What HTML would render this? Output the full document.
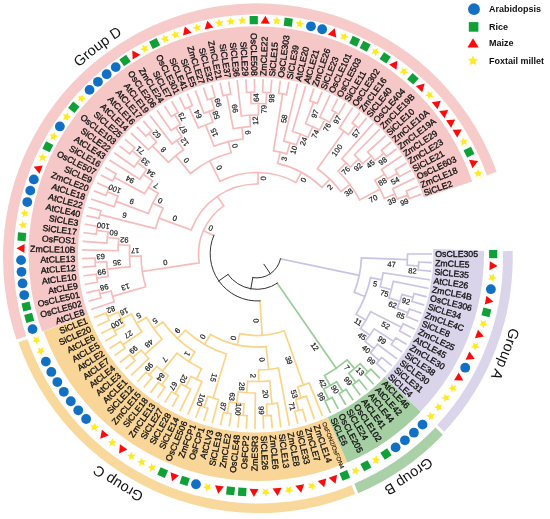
<!DOCTYPE html>
<html lang="en"><head><meta charset="utf-8"><title>CLE phylogenetic tree</title>
<style>
html,body{margin:0;padding:0;background:#fff}
svg{display:block;font-family:"Liberation Sans",Arial,sans-serif}
</style></head><body>
<svg width="550" height="519" viewBox="0 0 550 519">
<rect width="550" height="519" fill="#fff"/>
<g id="sectors">
<path d="M42.12 331.6A227.8 227.8 0 1 1 472.22 181.4L398.48 206.2A150 150 0 1 0 115.27 305.1Z" fill="#f5c7c7"/>
<path d="M347.21 462.3A227 227 0 0 1 43.58 331.33L115.97 305.1A150 150 0 0 0 316.61 391.65Z" fill="#f9d697"/>
<path d="M420.74 411.66A227.3 227.3 0 0 1 347.33 462.58L316.61 391.65A150 150 0 0 0 365.05 358.04Z" fill="#a5cfa3"/>
<path d="M483.98 250.91A227 227 0 0 1 420.52 411.45L365.05 358.04A150 150 0 0 0 406.87 247.85Z" fill="#d9d4ea"/>
<circle cx="255.6" cy="254.75" r="177.8" fill="#fff"/>
</g>
<g id="rings">
<path d="M16.52 339.53A254.3 254.3 0 0 1 496.67 171.86L486.88 175.38A243.9 243.9 0 0 0 26.38 336.2Z" fill="#f8cbcb"/>
<path d="M355.13 494.07A254.4 254.4 0 0 1 18.35 342.36L27.42 339.21A244.8 244.8 0 0 0 351.49 485.19Z" fill="#f9d89c"/>
<path d="M442.84 434.67A254.7 254.7 0 0 1 358.22 493.15L354.23 483.76A244.5 244.5 0 0 0 435.47 427.62Z" fill="#a9d0a7"/>
<path d="M512.6 250.89A254.7 254.7 0 0 1 444.28 431.7L437.18 425.09A245 245 0 0 0 502.9 251.16Z" fill="#dad5eb"/>
</g>
<g id="tree" fill="none" stroke-width="1.7" stroke-linecap="square">
<path stroke="#f7bbbb" d="M213.86 235.35L203.3 230.79M199.17 262.82A58.5 58.5 0 0 1 223.81 205.83M199.17 262.82L142.33 271.49M145.71 286.7A116 116 0 0 1 141.02 255.96M145.71 286.7L112.6 296.43M114.28 301.75A150.5 150.5 0 0 1 111.13 291.05M114.28 301.75L91.9 309.24M111.13 291.05L99.98 293.88M101.02 297.75A162 162 0 0 1 99.05 289.98M101.02 297.75L89.37 301.01M99.05 289.98L87.25 292.67M141.02 255.96L129.52 256.16M130.14 266.77A127.5 127.5 0 0 1 129.78 245.52M130.14 266.77L107.26 269.08M108.19 276.46A150.5 150.5 0 0 1 106.69 261.66M108.19 276.46L96.81 278.18M97.46 282.13A162 162 0 0 1 96.27 274.21M97.46 282.13L85.54 284.23M96.27 274.21L84.26 275.72M106.69 261.66L95.21 262.24M95.46 266.24A162 162 0 0 1 95.06 258.24M95.46 266.24L83.4 267.15M95.06 258.24L82.96 258.56M129.78 245.52L118.31 244.76M118.04 250.77A139 139 0 0 1 118.84 238.77M118.04 250.77L82.95 249.95M118.84 238.77L107.41 237.51M106.9 243.06A150.5 150.5 0 0 1 108.12 231.97M106.9 243.06L83.36 241.35M108.12 231.97L96.74 230.29M96.21 234.26A162 162 0 0 1 97.38 226.33M96.21 234.26L84.2 232.78M97.38 226.33L85.46 224.27M223.81 205.83L217.28 196.36M191.25 229.99A70 70 0 0 1 257.98 184.01M191.25 229.99L158.84 218.16M155.64 228.57A104.5 104.5 0 0 1 163.11 208.13M155.64 228.57L99.87 214.58M98.94 218.48A162 162 0 0 1 100.89 210.71M98.94 218.48L87.14 215.82M100.89 210.71L89.23 207.47M163.11 208.13L152.77 203.08M148.32 213.45A116 116 0 0 1 158.22 193.19M148.32 213.45L115.99 201.4M114.14 206.66A150.5 150.5 0 0 1 118.04 196.2M114.14 206.66L91.74 199.24M118.04 196.2L107.42 191.79M105.93 195.5A162 162 0 0 1 109.01 188.11M105.93 195.5L94.65 191.14M109.01 188.11L97.95 183.19M158.22 193.19L148.42 187.16M144.69 193.65A127.5 127.5 0 0 1 152.53 180.91M144.69 193.65L114.3 177.32M112.44 180.87A162 162 0 0 1 116.24 173.82M112.44 180.87L101.65 175.41M116.24 173.82L105.72 167.83M152.53 180.91L143.11 174.31M139.77 179.32A139 139 0 0 1 146.66 169.46M139.77 179.32L110.17 160.46M146.66 169.46L137.53 162.47M134.22 166.96A150.5 150.5 0 0 1 141.01 158.1M134.22 166.96L114.97 153.31M141.01 158.1L132.15 150.77M129.63 153.89A162 162 0 0 1 134.74 147.72M129.63 153.89L120.12 146.41M134.74 147.72L125.61 139.78M257.98 184.01L258.14 172.51M220.06 181.35A81.5 81.5 0 0 1 295.97 182.42M220.06 181.35L209.63 160.85M190.37 173.5A104.5 104.5 0 0 1 231.2 152.73M190.37 173.5L175.7 155.78M168.36 162.35A127.5 127.5 0 0 1 183.53 149.8M168.36 162.35L152.38 145.82M148.44 149.77A150.5 150.5 0 0 1 156.46 142.01M148.44 149.77L131.41 133.42M156.46 142.01L148.78 133.45M145.83 136.17A162 162 0 0 1 151.79 130.81M145.83 136.17L137.53 127.36M151.79 130.81L143.93 121.61M183.53 149.8L176.9 140.4M172.06 143.97A139 139 0 0 1 181.89 137.04M172.06 143.97L150.61 116.19M181.89 137.04L175.68 127.36M171.04 130.47A150.5 150.5 0 0 1 180.43 124.44M171.04 130.47L157.56 111.1M180.43 124.44L174.58 114.54M171.15 116.62A162 162 0 0 1 178.05 112.54M171.15 116.62L164.74 106.35M178.05 112.54L172.15 101.97M231.2 152.73L228.36 141.59M214.05 146.24A116 116 0 0 1 243.16 138.83M214.05 146.24L205.54 124.88M198.44 127.94A139 139 0 0 1 212.8 122.22M198.44 127.94L188.75 107.08M185.14 108.81A162 162 0 0 1 192.4 105.44M185.14 108.81L179.77 97.97M192.4 105.44L187.58 94.34M212.8 122.22L209.14 111.31M203.88 113.18A150.5 150.5 0 0 1 214.47 109.64M203.88 113.18L195.55 91.1M214.47 109.64L211.22 98.6M207.39 99.78A162 162 0 0 1 215.07 97.52M207.39 99.78L203.68 88.27M215.07 97.52L211.94 85.83M243.16 138.83L241.78 127.41M233.22 128.74A127.5 127.5 0 0 1 250.42 126.67M233.22 128.74L226.78 94.84M222.86 95.64A162 162 0 0 1 230.73 94.14M222.86 95.64L220.31 83.81M230.73 94.14L228.76 82.2M250.42 126.67L249.83 115.19M241.26 115.89A139 139 0 0 1 258.42 115.01M241.26 115.89L237.29 81.02M258.42 115.01L258.53 103.51M251.09 103.62A150.5 150.5 0 0 1 265.97 103.77M251.09 103.62L250.64 92.12M246.64 92.33A162 162 0 0 1 254.64 92.02M246.64 92.33L245.87 80.26M254.64 92.02L254.47 79.92M265.97 103.77L266.65 92.29M262.65 92.1A162 162 0 0 1 270.65 92.58M262.65 92.1L263.08 80.01M270.65 92.58L271.67 80.52M295.97 182.42L301.46 172.32M277.68 163.33A93 93 0 0 1 321.93 187.42M277.68 163.33L280.23 152.12M273.5 150.81A104.5 104.5 0 0 1 286.87 153.86M273.5 150.81L282.58 94.03M278.61 93.45A162 162 0 0 1 286.52 94.71M278.61 93.45L280.23 81.46M286.52 94.71L288.73 82.82M286.87 153.86L290.16 142.84M283.75 141.13A116 116 0 0 1 296.46 144.92M283.75 141.13L297.15 84.59M296.46 144.92L300.37 134.1M292.5 131.54A127.5 127.5 0 0 1 308.05 137.17M292.5 131.54L305.48 86.78M308.05 137.17L312.66 126.63M305.49 123.73A139 139 0 0 1 319.65 129.92M305.49 123.73L313.51 102.18M309.74 100.83A162 162 0 0 1 317.25 103.62M309.74 100.83L313.68 89.39M317.25 103.62L321.75 92.39M319.65 129.92L324.84 119.66M319.81 117.23A150.5 150.5 0 0 1 329.77 122.26M319.81 117.23L329.66 95.79M329.77 122.26L335.33 112.2M331.8 110.3A162 162 0 0 1 338.81 114.18M331.8 110.3L337.39 99.57M338.81 114.18L344.93 103.73M321.93 187.42L329.96 179.18M317.37 168.7A104.5 104.5 0 0 1 340.75 191.5M317.37 168.7L343.95 131.16M339.33 128.02A150.5 150.5 0 0 1 348.44 134.47M339.33 128.02L352.25 108.26M348.44 134.47L355.43 125.33M352.22 122.94A162 162 0 0 1 358.58 127.81M352.22 122.94L359.33 113.15M358.58 127.81L366.17 118.38M340.75 191.5L349.96 184.62M338.05 171.01A116 116 0 0 1 359.62 199.91M338.05 171.01L346.08 162.78M341.76 158.75A127.5 127.5 0 0 1 350.22 167.01M341.76 158.75L372.74 123.94M350.22 167.01L358.62 159.17M354.43 154.86A139 139 0 0 1 362.63 163.65M354.43 154.86L379.03 129.82M362.63 163.65L371.37 156.17M367.66 152A150.5 150.5 0 0 1 374.92 160.48M367.66 152L385.02 136.01M374.92 160.48L383.93 153.34M381.4 150.23A162 162 0 0 1 386.38 156.51M381.4 150.23L390.69 142.48M386.38 156.51L396.04 149.22M359.62 199.91L379.97 189.19M374.83 180.26A139 139 0 0 1 384.43 198.48M374.83 180.26L384.57 174.15M381.52 169.48A150.5 150.5 0 0 1 387.45 178.94M381.52 169.48L401.05 156.23M387.45 178.94L397.41 173.2M395.37 169.76A162 162 0 0 1 399.37 176.7M395.37 169.76L405.71 163.47M399.37 176.7L410 170.93M384.43 198.48L394.97 193.89M392.65 188.81A150.5 150.5 0 0 1 397.11 199.05M392.65 188.81L413.92 178.59M397.11 199.05L407.81 194.85M406.31 191.14A162 162 0 0 1 409.23 198.59M406.31 191.14L417.46 186.44M409.23 198.59L420.6 194.45"/>
<path stroke="#fbd486" d="M260 300.9L262.2 335.33M284.23 330.82A81.5 81.5 0 0 1 239.78 333.66M284.23 330.82L303.45 385.01M309.07 382.88A139 139 0 0 1 297.74 386.9M309.07 382.88L322.22 415.42M297.74 386.9L301.11 397.89M306.41 396.16A150.5 150.5 0 0 1 295.74 399.43M306.41 396.16L314.16 418.45M295.74 399.43L298.7 410.54M302.56 409.46A162 162 0 0 1 294.82 411.52M302.56 409.46L305.96 421.07M294.82 411.52L297.64 423.29M239.78 333.66L237.35 344.9M266.25 346.54A93 93 0 0 1 210.35 334.45M266.25 346.54L268.54 369.42M278.47 368A116 116 0 0 1 258.52 369.99M278.47 368L289.23 425.09M258.52 369.99L258.67 381.49M269.68 380.87A127.5 127.5 0 0 1 247.64 381.16M269.68 380.87L271.97 403.75M277.51 403.1A150.5 150.5 0 0 1 266.41 404.21M277.51 403.1L280.73 426.48M266.41 404.21L267.13 415.68M271.12 415.38A162 162 0 0 1 263.12 415.88M271.12 415.38L272.17 427.44M263.12 415.88L263.58 427.98M247.64 381.16L246.8 392.63M255.38 392.99A139 139 0 0 1 238.26 391.73M255.38 392.99L254.97 428.09M238.26 391.73L236.7 403.13M244.1 403.95A150.5 150.5 0 0 1 229.36 401.94M244.1 403.95L243.12 415.4M247.11 415.7A162 162 0 0 1 239.13 415.01M247.11 415.7L246.37 427.78M239.13 415.01L237.79 427.04M229.36 401.94L227.25 413.24M231.19 413.93A162 162 0 0 1 223.32 412.46M231.19 413.93L229.26 425.88M223.32 412.46L220.8 424.3M210.35 334.45L204.58 344.4M226.52 353.96A104.5 104.5 0 0 1 185.39 330.11M226.52 353.96L213.1 397.96M218.47 399.48A150.5 150.5 0 0 1 207.8 396.23M218.47 399.48L212.43 422.3M207.8 396.23L204.04 407.1M207.84 408.36A162 162 0 0 1 200.27 405.74M207.84 408.36L204.16 419.89M200.27 405.74L196.03 417.07M185.39 330.11L177.51 338.48M194.9 351.98A116 116 0 0 1 162.98 321.94M194.9 351.98L188.75 361.69M201.48 368.78A127.5 127.5 0 0 1 176.91 353.2M201.48 368.78L196.48 379.13M201.94 381.63A139 139 0 0 1 191.12 376.4M201.94 381.63L188.04 413.86M191.12 376.4L185.67 386.52M190.63 389.08A150.5 150.5 0 0 1 180.8 383.79M190.63 389.08L180.22 410.26M180.8 383.79L174.98 393.7M178.46 395.69A162 162 0 0 1 171.55 391.63M178.46 395.69L172.59 406.27M171.55 391.63L165.17 401.91M176.91 353.2L162.46 371.1M168.36 375.63A150.5 150.5 0 0 1 156.78 366.28M168.36 375.63L161.59 384.92M164.85 387.24A162 162 0 0 1 158.38 382.52M164.85 387.24L157.97 397.19M158.38 382.52L151.01 392.12M156.78 366.28L149.13 374.86M152.15 377.49A162 162 0 0 1 146.17 372.16M152.15 377.49L144.32 386.72M146.17 372.16L137.89 380.98M162.98 321.94L153.66 328.68M162.06 339.11A127.5 127.5 0 0 1 146.4 317.43M162.06 339.11L144.94 354.46M148.74 358.55A150.5 150.5 0 0 1 141.29 350.24M148.74 358.55L131.76 374.94M141.29 350.24L132.45 357.59M135.05 360.64A162 162 0 0 1 129.92 354.48M135.05 360.64L125.94 368.6M129.92 354.48L120.43 361.98M146.4 317.43L136.42 323.15M141.88 331.9A139 139 0 0 1 131.63 314.02M141.88 331.9L122.83 344.78M125.11 348.07A162 162 0 0 1 120.62 341.44M125.11 348.07L115.26 355.1M120.62 341.44L110.44 347.97M131.63 314.02L121.26 318.99M124.63 325.62A150.5 150.5 0 0 1 118.21 312.2M124.63 325.62L114.52 331.09M116.47 334.59A162 162 0 0 1 112.66 327.55M116.47 334.59L105.97 340.61M112.66 327.55L101.88 333.04M118.21 312.2L107.6 316.65M109.2 320.32A162 162 0 0 1 106.1 312.93M109.2 320.32L98.16 325.28M106.1 312.93L94.83 317.34"/>
<path stroke="#98cd98" d="M277.23 283.17L336.23 368.21M347.12 359.83A139 139 0 0 1 324.57 375.47M347.12 359.83L354.58 368.58M360.12 363.62A150.5 150.5 0 0 1 348.79 373.27M360.12 363.62L368 372M370.88 369.22A162 162 0 0 1 365.05 374.7M370.88 369.22L379.39 377.82M365.05 374.7L373.12 383.72M348.79 373.27L355.81 382.38M358.95 379.9A162 162 0 0 1 352.6 384.78M358.95 379.9L366.56 389.3M352.6 384.78L359.74 394.55M324.57 375.47L330.16 385.52M336.57 381.75A150.5 150.5 0 0 1 323.56 388.98M336.57 381.75L342.65 391.51M346.02 389.35A162 162 0 0 1 339.22 393.58M346.02 389.35L352.67 399.46M339.22 393.58L345.36 404.01M323.56 388.98L328.65 399.29M332.22 397.48A162 162 0 0 1 325.04 401.02M332.22 397.48L337.84 408.19M325.04 401.02L330.12 412"/>
<path stroke="#c9c4e5" d="M280.49 258.92L359.28 275.41M361.43 257.87A104.5 104.5 0 0 1 354.22 292.33M361.43 257.87L407.4 259.58M407.5 254A150.5 150.5 0 0 1 407.09 265.15M407.5 254L431.1 254M407.09 265.15L418.55 266.01M418.8 262.01A162 162 0 0 1 418.21 270M418.8 262.01L430.89 262.61M418.21 270L430.25 271.19M354.22 292.33L364.92 296.54M370.59 277.5A116 116 0 0 1 356.07 314.34M370.59 277.5L381.86 279.83M383.1 272.85A127.5 127.5 0 0 1 380.23 286.73M383.1 272.85L429.19 279.73M380.23 286.73L391.34 289.68M393.29 281.32A139 139 0 0 1 388.88 297.91M393.29 281.32L427.71 288.21M388.88 297.91L399.79 301.55M401.97 294.43A150.5 150.5 0 0 1 397.27 308.55M401.97 294.43L413.05 297.52M414.07 293.65A162 162 0 0 1 411.92 301.36M414.07 293.65L425.81 296.61M411.92 301.36L423.49 304.9M397.27 308.55L407.99 312.71M409.39 308.96A162 162 0 0 1 406.49 316.43M409.39 308.96L420.77 313.07M406.49 316.43L417.65 321.09M356.07 314.34L365.89 320.32M370.69 311.72A127.5 127.5 0 0 1 360.45 328.53M370.69 311.72L401.45 327.34M403.22 323.74A162 162 0 0 1 399.59 330.89M403.22 323.74L414.14 328.95M399.59 330.89L410.24 336.63M360.45 328.53L369.78 335.25M374.12 328.86A139 139 0 0 1 365.09 341.4M374.12 328.86L393.5 341.24M395.62 337.84A162 162 0 0 1 391.3 344.59M395.62 337.84L405.97 344.1M391.3 344.59L401.34 351.36M365.09 341.4L374.03 348.63M377.46 344.22A150.5 150.5 0 0 1 370.44 352.9M377.46 344.22L396.35 358.37M370.44 352.9L379.11 360.46M381.7 357.41A162 162 0 0 1 376.44 363.45M381.7 357.41L391.02 365.13M376.44 363.45L385.36 371.62"/>
<path stroke="#333333" stroke-width="1.0" d="M264 264.36L270.44 273.88M280.49 258.92A24 24 0 0 1 252.81 277.63M252.81 277.63L250.8 288.95M277.23 283.17A35.5 35.5 0 0 1 227.97 274.43M227.97 274.43L218.57 281.05M260 300.9A47 47 0 0 1 213.86 235.35"/>
</g>
<g id="boot" font-size="7.6" fill="#222" stroke="#222" stroke-width="0.2" text-anchor="middle">
<text transform="translate(257 254) rotate(2.12)" x="134.86" y="8">47</text>
<text transform="translate(257 254) rotate(4.25)" x="156.25" y="8">82</text>
<text transform="translate(257 254) rotate(11.69)" x="121.75" y="8">5</text>
<text transform="translate(257 254) rotate(14.88)" x="133.25" y="8">75</text>
<text transform="translate(257 254) rotate(18.42)" x="144.75" y="8">62</text>
<text transform="translate(257 254) rotate(15.58)" x="156.25" y="8">92</text>
<text transform="translate(257 254) rotate(21.25)" x="156.25" y="8">85</text>
<text transform="translate(257 254) rotate(31.34)" x="121.75" y="8">11</text>
<text transform="translate(257 254) rotate(26.92)" x="147.05" y="8">52</text>
<text transform="translate(257 254) rotate(35.77)" x="133.25" y="8">45</text>
<text transform="translate(257 254) rotate(32.58)" x="151.65" y="8">99</text>
<text transform="translate(257 254) rotate(38.96)" x="144.75" y="8">40</text>
<text transform="translate(257 254) rotate(41.08)" x="156.25" y="8">99</text>
<text transform="translate(257 254) rotate(55.25)" x="108.98" y="8">12</text>
<text transform="translate(257 254) rotate(49.58)" x="144.75" y="8">7</text>
<text transform="translate(257 254) rotate(46.75)" x="156.25" y="8">13</text>
<text transform="translate(257 254) rotate(52.42)" x="156.25" y="8">99</text>
<text transform="translate(257 254) rotate(60.92)" x="144.75" y="8">42</text>
<text transform="translate(257 254) rotate(58.08)" x="156.25" y="8">90</text>
<text transform="translate(257 254) rotate(63.75)" x="156.25" y="8">98</text>
<text transform="translate(257 254) rotate(86.34)" x="66.55" y="8">0</text>
<text transform="translate(257 254) rotate(70.48)" x="110.83" y="8">39</text>
<text transform="translate(257 254) rotate(72.96)" x="144.75" y="8">53</text>
<text transform="translate(257 254) rotate(75.08)" x="156.25" y="8">71</text>
<text transform="translate(257 254) rotate(102.2)" x="87.25" y="8">0</text>
<text transform="translate(257 254) rotate(84.29)" x="105.65" y="8">0</text>
<text transform="translate(257 254) rotate(89.25)" x="121.75" y="8">2</text>
<text transform="translate(257 254) rotate(84.29)" x="140.15" y="8">20</text>
<text transform="translate(257 254) rotate(86.42)" x="156.25" y="8">99</text>
<text transform="translate(257 254) rotate(94.21)" x="133.25" y="8">28</text>
<text transform="translate(257 254) rotate(97.75)" x="144.75" y="8">63</text>
<text transform="translate(257 254) rotate(94.92)" x="156.25" y="8">100</text>
<text transform="translate(257 254) rotate(100.58)" x="156.25" y="8">87</text>
<text transform="translate(257 254) rotate(120.11)" x="98.75" y="8">0</text>
<text transform="translate(257 254) rotate(106.96)" x="130.95" y="8">15</text>
<text transform="translate(257 254) rotate(109.08)" x="156.25" y="8">100</text>
<text transform="translate(257 254) rotate(133.26)" x="110.25" y="8">9</text>
<text transform="translate(257 254) rotate(122.36)" x="121.75" y="8">1</text>
<text transform="translate(257 254) rotate(118.29)" x="144.75" y="8">20</text>
<text transform="translate(257 254) rotate(120.42)" x="156.25" y="8">67</text>
<text transform="translate(257 254) rotate(128.92)" x="140.15" y="8">7</text>
<text transform="translate(257 254) rotate(126.08)" x="156.25" y="8">84</text>
<text transform="translate(257 254) rotate(131.75)" x="156.25" y="8">99</text>
<text transform="translate(257 254) rotate(144.15)" x="121.75" y="8">5</text>
<text transform="translate(257 254) rotate(138.12)" x="140.15" y="8">48</text>
<text transform="translate(257 254) rotate(140.25)" x="156.25" y="8">99</text>
<text transform="translate(257 254) rotate(150.17)" x="133.25" y="8">5</text>
<text transform="translate(257 254) rotate(145.92)" x="151.65" y="8">27</text>
<text transform="translate(257 254) rotate(154.42)" x="144.75" y="8">16</text>
<text transform="translate(257 254) rotate(151.58)" x="156.25" y="8">100</text>
<text transform="translate(257 254) rotate(157.25)" x="156.25" y="8">82</text>
<text transform="translate(257 254) rotate(203.38)" x="52.75" y="8">0</text>
<text transform="translate(257 254) rotate(171.33)" x="91.85" y="8">0</text>
<text transform="translate(257 254) rotate(163.62)" x="135.55" y="8">13</text>
<text transform="translate(257 254) rotate(165.75)" x="156.25" y="8">98</text>
<text transform="translate(257 254) rotate(179.03)" x="121.75" y="8">17</text>
<text transform="translate(257 254) rotate(174.25)" x="140.15" y="8">35</text>
<text transform="translate(257 254) rotate(171.42)" x="156.25" y="8">99</text>
<text transform="translate(257 254) rotate(177.08)" x="156.25" y="8">63</text>
<text transform="translate(257 254) rotate(183.81)" x="133.25" y="8">92</text>
<text transform="translate(257 254) rotate(186.29)" x="144.75" y="8">60</text>
<text transform="translate(257 254) rotate(188.42)" x="156.25" y="8">100</text>
<text transform="translate(257 254) rotate(200.06)" x="89.55" y="8">0</text>
<text transform="translate(257 254) rotate(194.08)" x="137.85" y="8">6</text>
<text transform="translate(257 254) rotate(206.04)" x="110.25" y="8">0</text>
<text transform="translate(257 254) rotate(200.46)" x="135.55" y="8">9</text>
<text transform="translate(257 254) rotate(202.58)" x="156.25" y="8">100</text>
<text transform="translate(257 254) rotate(211.61)" x="121.75" y="8">7</text>
<text transform="translate(257 254) rotate(208.25)" x="147.05" y="8">94</text>
<text transform="translate(257 254) rotate(214.98)" x="133.25" y="8">34</text>
<text transform="translate(257 254) rotate(217.46)" x="144.75" y="8">33</text>
<text transform="translate(257 254) rotate(219.58)" x="156.25" y="8">71</text>
<text transform="translate(257 254) rotate(270.8)" x="75.75" y="8">0</text>
<text transform="translate(257 254) rotate(243.05)" x="94.15" y="8">0</text>
<text transform="translate(257 254) rotate(230.39)" x="117.15" y="8">0</text>
<text transform="translate(257 254) rotate(225.96)" x="140.15" y="8">8</text>
<text transform="translate(257 254) rotate(228.08)" x="156.25" y="8">62</text>
<text transform="translate(257 254) rotate(234.81)" x="133.25" y="8">12</text>
<text transform="translate(257 254) rotate(237.29)" x="144.75" y="8">87</text>
<text transform="translate(257 254) rotate(239.42)" x="156.25" y="8">73</text>
<text transform="translate(257 254) rotate(255.71)" x="110.25" y="8">0</text>
<text transform="translate(257 254) rotate(248.27)" x="128.65" y="8">15</text>
<text transform="translate(257 254) rotate(245.08)" x="151.65" y="8">64</text>
<text transform="translate(257 254) rotate(251.46)" x="144.75" y="8">58</text>
<text transform="translate(257 254) rotate(253.58)" x="156.25" y="8">99</text>
<text transform="translate(257 254) rotate(263.15)" x="121.75" y="8">9</text>
<text transform="translate(257 254) rotate(259.25)" x="147.05" y="8">99</text>
<text transform="translate(257 254) rotate(267.04)" x="133.25" y="8">12</text>
<text transform="translate(257 254) rotate(270.58)" x="144.75" y="8">79</text>
<text transform="translate(257 254) rotate(267.75)" x="156.25" y="8">64</text>
<text transform="translate(257 254) rotate(273.42)" x="156.25" y="8">98</text>
<text transform="translate(257 254) rotate(298.56)" x="87.25" y="8">0</text>
<text transform="translate(257 254) rotate(282.85)" x="98.75" y="8">3</text>
<text transform="translate(257 254) rotate(279.08)" x="137.85" y="8">58</text>
<text transform="translate(257 254) rotate(286.61)" x="110.25" y="8">10</text>
<text transform="translate(257 254) rotate(289.89)" x="121.75" y="8">24</text>
<text transform="translate(257 254) rotate(293.6)" x="133.25" y="8">74</text>
<text transform="translate(257 254) rotate(290.42)" x="151.65" y="8">97</text>
<text transform="translate(257 254) rotate(296.79)" x="144.75" y="8">76</text>
<text transform="translate(257 254) rotate(298.92)" x="156.25" y="8">97</text>
<text transform="translate(257 254) rotate(314.28)" x="98.75" y="8">2</text>
<text transform="translate(257 254) rotate(305.29)" x="130.95" y="8">100</text>
<text transform="translate(257 254) rotate(307.42)" x="156.25" y="8">57</text>
<text transform="translate(257 254) rotate(323.27)" x="110.25" y="8">38</text>
<text transform="translate(257 254) rotate(314.32)" x="121.75" y="8">76</text>
<text transform="translate(257 254) rotate(316.98)" x="133.25" y="8">92</text>
<text transform="translate(257 254) rotate(319.46)" x="144.75" y="8">45</text>
<text transform="translate(257 254) rotate(321.58)" x="156.25" y="8">98</text>
<text transform="translate(257 254) rotate(332.21)" x="128.65" y="8">70</text>
<text transform="translate(257 254) rotate(327.96)" x="144.75" y="8">88</text>
<text transform="translate(257 254) rotate(330.08)" x="156.25" y="8">54</text>
<text transform="translate(257 254) rotate(336.46)" x="144.75" y="8">39</text>
<text transform="translate(257 254) rotate(338.58)" x="156.25" y="8">99</text>
</g>
<g id="leaves" font-size="8.75" fill="#111" stroke="#111" stroke-width="0.32">
<text transform="translate(257 254) rotate(0)" x="178.29" y="3.1">OsCLE305</text>
<text transform="translate(257 254) rotate(2.83)" x="178.38" y="3.1">ZmCLE5</text>
<text transform="translate(257 254) rotate(5.67)" x="178.48" y="3.1">SiCLE35</text>
<text transform="translate(257 254) rotate(8.5)" x="178.57" y="3.1">AtCLE26</text>
<text transform="translate(257 254) rotate(11.33)" x="178.67" y="3.1">ZmCLE4B</text>
<text transform="translate(257 254) rotate(14.17)" x="178.78" y="3.1">OsCLE306</text>
<text transform="translate(257 254) rotate(17)" x="178.89" y="3.1">SiCLE34</text>
<text transform="translate(257 254) rotate(19.83)" x="179" y="3.1">ZmCLE4C</text>
<text transform="translate(257 254) rotate(22.67)" x="179.11" y="3.1">SiCLE8</text>
<text transform="translate(257 254) rotate(25.5)" x="179.23" y="3.1">ZmCLE25</text>
<text transform="translate(257 254) rotate(28.33)" x="179.34" y="3.1">AtCLE45</text>
<text transform="translate(257 254) rotate(31.17)" x="179.46" y="3.1">ZmCLE30</text>
<text transform="translate(257 254) rotate(34)" x="179.58" y="3.1">SiCLE38</text>
<text transform="translate(257 254) rotate(36.83)" x="179.7" y="3.1">SiCLE30</text>
<text transform="translate(257 254) rotate(39.67)" x="179.82" y="3.1">SiCLE31</text>
<text transform="translate(257 254) rotate(42.5)" x="179.95" y="3.1">SiCLE4</text>
<text transform="translate(257 254) rotate(45.33)" x="180.07" y="3.1">AtCLE46</text>
<text transform="translate(257 254) rotate(48.17)" x="180.19" y="3.1">AtCLE42</text>
<text transform="translate(257 254) rotate(51)" x="180.31" y="3.1">AtCLE44</text>
<text transform="translate(257 254) rotate(53.83)" x="180.43" y="3.1">AtCLE41</text>
<text transform="translate(257 254) rotate(56.67)" x="180.55" y="3.1">OsCLE102</text>
<text transform="translate(257 254) rotate(59.5)" x="180.67" y="3.1">SiCLE24</text>
<text transform="translate(257 254) rotate(62.33)" x="180.79" y="3.1">OsCLE205</text>
<text transform="translate(257 254) rotate(65.17)" x="180.9" y="3.1">SiCLE6</text>
<text transform="translate(257 254) rotate(68)" x="181.02" y="3.1" font-size="6.1" fill="#2a1800" stroke="#2a1800" stroke-width="0.15">OsFON2/OsFON4</text>
<text transform="translate(257 254) rotate(70.83)" x="181.13" y="3.1">ZmCLE14</text>
<text transform="translate(257 254) rotate(73.67)" x="181.24" y="3.1">ZmCLE7</text>
<text transform="translate(257 254) rotate(76.5)" x="181.34" y="3.1">SiCLE33</text>
<text transform="translate(257 254) rotate(79.33)" x="181.44" y="3.1">ZmCLE8</text>
<text transform="translate(257 254) rotate(82.17)" x="181.54" y="3.1">SiCLE13</text>
<text transform="translate(257 254) rotate(85)" x="181.64" y="3.1">ZmCLE6</text>
<text transform="translate(257 254) rotate(87.83)" x="181.73" y="3.1">SiCLE26</text>
<text transform="translate(257 254) rotate(270.67)" x="-181.81" y="3.1" text-anchor="end">ZmESR3</text>
<text transform="translate(257 254) rotate(273.5)" x="-181.89" y="3.1" text-anchor="end">OsFCP2</text>
<text transform="translate(257 254) rotate(276.33)" x="-181.97" y="3.1" text-anchor="end">OsCLE48</text>
<text transform="translate(257 254) rotate(279.17)" x="-182.04" y="3.1" text-anchor="end">ZmCLE2</text>
<text transform="translate(257 254) rotate(282)" x="-182.11" y="3.1" text-anchor="end">SiCLE19</text>
<text transform="translate(257 254) rotate(284.83)" x="-182.17" y="3.1" text-anchor="end">AtCLV3</text>
<text transform="translate(257 254) rotate(287.67)" x="-182.23" y="3.1" text-anchor="end">OsFCP1</text>
<text transform="translate(257 254) rotate(290.5)" x="-182.28" y="3.1" text-anchor="end">ZmFCP1</text>
<text transform="translate(257 254) rotate(293.33)" x="-182.32" y="3.1" text-anchor="end">OsCLE506</text>
<text transform="translate(257 254) rotate(296.17)" x="-182.36" y="3.1" text-anchor="end">SiCLE14</text>
<text transform="translate(257 254) rotate(299)" x="-182.4" y="3.1" text-anchor="end">SiCLE28</text>
<text transform="translate(257 254) rotate(301.83)" x="-182.43" y="3.1" text-anchor="end">SiCLE27</text>
<text transform="translate(257 254) rotate(304.67)" x="-182.45" y="3.1" text-anchor="end">ZmCLE13</text>
<text transform="translate(257 254) rotate(307.5)" x="-182.46" y="3.1" text-anchor="end">SiCLE18</text>
<text transform="translate(257 254) rotate(310.33)" x="-182.47" y="3.1" text-anchor="end">ZmCLE15</text>
<text transform="translate(257 254) rotate(313.17)" x="-182.48" y="3.1" text-anchor="end">SiCLE12</text>
<text transform="translate(257 254) rotate(316)" x="-182.47" y="3.1" text-anchor="end">AtCLE1</text>
<text transform="translate(257 254) rotate(318.83)" x="-182.46" y="3.1" text-anchor="end">AtCLE3</text>
<text transform="translate(257 254) rotate(321.67)" x="-182.45" y="3.1" text-anchor="end">AtCLE4</text>
<text transform="translate(257 254) rotate(324.5)" x="-182.43" y="3.1" text-anchor="end">AtCLE7</text>
<text transform="translate(257 254) rotate(327.33)" x="-182.4" y="3.1" text-anchor="end">AtCLE2</text>
<text transform="translate(257 254) rotate(330.17)" x="-182.37" y="3.1" text-anchor="end">AtCLE5</text>
<text transform="translate(257 254) rotate(333)" x="-182.33" y="3.1" text-anchor="end">AtCLE6</text>
<text transform="translate(257 254) rotate(335.83)" x="-182.29" y="3.1" text-anchor="end">SiCLE20</text>
<text transform="translate(257 254) rotate(338.67)" x="-182.24" y="3.1" text-anchor="end">SiCLE1</text>
<text transform="translate(257 254) rotate(341.5)" x="-182.18" y="3.1" text-anchor="end">AtCLE8</text>
<text transform="translate(257 254) rotate(344.33)" x="-182.12" y="3.1" text-anchor="end">OsCLE502</text>
<text transform="translate(257 254) rotate(347.17)" x="-182.05" y="3.1" text-anchor="end">OsCLE501</text>
<text transform="translate(257 254) rotate(350)" x="-181.98" y="3.1" text-anchor="end">AtCLE9</text>
<text transform="translate(257 254) rotate(352.83)" x="-181.9" y="3.1" text-anchor="end">AtCLE10</text>
<text transform="translate(257 254) rotate(355.67)" x="-181.82" y="3.1" text-anchor="end">AtCLE12</text>
<text transform="translate(257 254) rotate(358.5)" x="-181.74" y="3.1" text-anchor="end">AtCLE13</text>
<text transform="translate(257 254) rotate(361.33)" x="-181.65" y="3.1" text-anchor="end">ZmCLE10B</text>
<text transform="translate(257 254) rotate(364.17)" x="-181.55" y="3.1" text-anchor="end">OsFOS1</text>
<text transform="translate(257 254) rotate(367)" x="-181.46" y="3.1" text-anchor="end">SiCLE17</text>
<text transform="translate(257 254) rotate(369.83)" x="-181.36" y="3.1" text-anchor="end">SiCLE3</text>
<text transform="translate(257 254) rotate(372.67)" x="-181.25" y="3.1" text-anchor="end">AtCLE40</text>
<text transform="translate(257 254) rotate(375.5)" x="-181.14" y="3.1" text-anchor="end">AtCLE22</text>
<text transform="translate(257 254) rotate(378.33)" x="-181.03" y="3.1" text-anchor="end">AtCLE18</text>
<text transform="translate(257 254) rotate(381.17)" x="-180.92" y="3.1" text-anchor="end">ZmCLE20</text>
<text transform="translate(257 254) rotate(384)" x="-180.81" y="3.1" text-anchor="end">SiCLE9</text>
<text transform="translate(257 254) rotate(386.83)" x="-180.69" y="3.1" text-anchor="end">OsCLE507</text>
<text transform="translate(257 254) rotate(389.67)" x="-180.57" y="3.1" text-anchor="end">SiCLE16</text>
<text transform="translate(257 254) rotate(392.5)" x="-180.45" y="3.1" text-anchor="end">AtCLE43</text>
<text transform="translate(257 254) rotate(395.33)" x="-180.33" y="3.1" text-anchor="end">SiCLE22</text>
<text transform="translate(257 254) rotate(398.17)" x="-180.21" y="3.1" text-anchor="end">OsCLE103</text>
<text transform="translate(257 254) rotate(401)" x="-180.09" y="3.1" text-anchor="end">SiCLE25</text>
<text transform="translate(257 254) rotate(403.83)" x="-179.96" y="3.1" text-anchor="end">AtCLE14</text>
<text transform="translate(257 254) rotate(406.67)" x="-179.84" y="3.1" text-anchor="end">AtCLE16</text>
<text transform="translate(257 254) rotate(409.5)" x="-179.72" y="3.1" text-anchor="end">AtCLE17</text>
<text transform="translate(257 254) rotate(412.33)" x="-179.6" y="3.1" text-anchor="end">AtCLE19</text>
<text transform="translate(257 254) rotate(415.17)" x="-179.48" y="3.1" text-anchor="end">OsCLE206</text>
<text transform="translate(257 254) rotate(418)" x="-179.36" y="3.1" text-anchor="end">ZmCLE24</text>
<text transform="translate(257 254) rotate(420.83)" x="-179.24" y="3.1" text-anchor="end">SiCLE7</text>
<text transform="translate(257 254) rotate(423.67)" x="-179.13" y="3.1" text-anchor="end">OsCLE301</text>
<text transform="translate(257 254) rotate(426.5)" x="-179.01" y="3.1" text-anchor="end">SiCLE41</text>
<text transform="translate(257 254) rotate(429.33)" x="-178.9" y="3.1" text-anchor="end">SiCLE5</text>
<text transform="translate(257 254) rotate(432.17)" x="-178.79" y="3.1" text-anchor="end">ZmCLE27</text>
<text transform="translate(257 254) rotate(435)" x="-178.69" y="3.1" text-anchor="end">SiCLE32</text>
<text transform="translate(257 254) rotate(437.83)" x="-178.59" y="3.1" text-anchor="end">ZmCLE21</text>
<text transform="translate(257 254) rotate(440.67)" x="-178.49" y="3.1" text-anchor="end">SiCLE37</text>
<text transform="translate(257 254) rotate(443.5)" x="-178.39" y="3.1" text-anchor="end">SiCLE36</text>
<text transform="translate(257 254) rotate(446.33)" x="-178.3" y="3.1" text-anchor="end">SiCLE29</text>
<text transform="translate(257 254) rotate(449.17)" x="-178.22" y="3.1" text-anchor="end">OsCLE508</text>
<text transform="translate(257 254) rotate(272)" x="178.13" y="3.1">ZmCLE22</text>
<text transform="translate(257 254) rotate(274.83)" x="178.06" y="3.1">SiCLE15</text>
<text transform="translate(257 254) rotate(277.67)" x="177.98" y="3.1">OsCLE303</text>
<text transform="translate(257 254) rotate(280.5)" x="177.92" y="3.1">SiCLE39</text>
<text transform="translate(257 254) rotate(283.33)" x="177.85" y="3.1">AtCLE20</text>
<text transform="translate(257 254) rotate(286.17)" x="177.79" y="3.1">AtCLE21</text>
<text transform="translate(257 254) rotate(289)" x="177.74" y="3.1">ZmCLE26</text>
<text transform="translate(257 254) rotate(291.83)" x="177.69" y="3.1">SiCLE23</text>
<text transform="translate(257 254) rotate(294.67)" x="177.65" y="3.1">OsCLE101</text>
<text transform="translate(257 254) rotate(297.5)" x="177.62" y="3.1">OsCLE503</text>
<text transform="translate(257 254) rotate(300.33)" x="177.59" y="3.1">SiCLE11</text>
<text transform="translate(257 254) rotate(303.17)" x="177.56" y="3.1">OsCLE302</text>
<text transform="translate(257 254) rotate(306)" x="177.54" y="3.1">ZmCLE16</text>
<text transform="translate(257 254) rotate(308.83)" x="177.53" y="3.1">SiCLE40</text>
<text transform="translate(257 254) rotate(311.67)" x="177.53" y="3.1">OsCLE404</text>
<text transform="translate(257 254) rotate(314.5)" x="177.52" y="3.1">ZmCLE19B</text>
<text transform="translate(257 254) rotate(317.33)" x="177.53" y="3.1">SiCLE10</text>
<text transform="translate(257 254) rotate(320.17)" x="177.54" y="3.1">ZmCLE10A</text>
<text transform="translate(257 254) rotate(323)" x="177.56" y="3.1">ZmCLE19A</text>
<text transform="translate(257 254) rotate(325.83)" x="177.58" y="3.1">ZmCLE29</text>
<text transform="translate(257 254) rotate(328.67)" x="177.61" y="3.1">ZmCLE23</text>
<text transform="translate(257 254) rotate(331.5)" x="177.65" y="3.1">SiCLE21</text>
<text transform="translate(257 254) rotate(334.33)" x="177.69" y="3.1">OsCLE603</text>
<text transform="translate(257 254) rotate(337.17)" x="177.73" y="3.1">ZmCLE18</text>
<text transform="translate(257 254) rotate(340)" x="177.78" y="3.1">SiCLE2</text>
</g>
<g id="symbols">
<rect transform="translate(493.19 254.09) rotate(90)" x="-4.1" y="-4.1" width="8.2" height="8.2" fill="#10a038"/>
<polygon transform="translate(493 265.81) rotate(92.83)" points="0,-4.6 4.5,3.4 -4.5,3.4" fill="#ff0a0a"/>
<polygon transform="translate(492.23 277.53) rotate(95.67)" points="0,-4.6 1.2,-1.66 4.37,-1.42 1.95,0.63 2.7,3.72 0,2.05 -2.7,3.72 -1.95,0.63 -4.37,-1.42 -1.2,-1.66" fill="#ffe920"/>
<circle cx="490.88" cy="289.21" r="4.9" fill="#1170c4"/>
<polygon transform="translate(488.94 300.83) rotate(101.33)" points="0,-4.6 4.5,3.4 -4.5,3.4" fill="#ff0a0a"/>
<rect transform="translate(486.42 312.37) rotate(104.17)" x="-4.1" y="-4.1" width="8.2" height="8.2" fill="#10a038"/>
<polygon transform="translate(483.32 323.79) rotate(107)" points="0,-4.6 1.2,-1.66 4.37,-1.42 1.95,0.63 2.7,3.72 0,2.05 -2.7,3.72 -1.95,0.63 -4.37,-1.42 -1.2,-1.66" fill="#ffe920"/>
<polygon transform="translate(479.64 335.06) rotate(109.83)" points="0,-4.6 4.5,3.4 -4.5,3.4" fill="#ff0a0a"/>
<polygon transform="translate(475.39 346.16) rotate(112.67)" points="0,-4.6 1.2,-1.66 4.37,-1.42 1.95,0.63 2.7,3.72 0,2.05 -2.7,3.72 -1.95,0.63 -4.37,-1.42 -1.2,-1.66" fill="#ffe920"/>
<polygon transform="translate(470.58 357.05) rotate(115.5)" points="0,-4.6 4.5,3.4 -4.5,3.4" fill="#ff0a0a"/>
<circle cx="465.22" cy="367.69" r="4.9" fill="#1170c4"/>
<polygon transform="translate(459.32 378.06) rotate(121.17)" points="0,-4.6 4.5,3.4 -4.5,3.4" fill="#ff0a0a"/>
<polygon transform="translate(452.9 388.12) rotate(124)" points="0,-4.6 1.2,-1.66 4.37,-1.42 1.95,0.63 2.7,3.72 0,2.05 -2.7,3.72 -1.95,0.63 -4.37,-1.42 -1.2,-1.66" fill="#ffe920"/>
<polygon transform="translate(445.99 397.84) rotate(126.83)" points="0,-4.6 1.2,-1.66 4.37,-1.42 1.95,0.63 2.7,3.72 0,2.05 -2.7,3.72 -1.95,0.63 -4.37,-1.42 -1.2,-1.66" fill="#ffe920"/>
<polygon transform="translate(438.61 407.18) rotate(129.67)" points="0,-4.6 1.2,-1.66 4.37,-1.42 1.95,0.63 2.7,3.72 0,2.05 -2.7,3.72 -1.95,0.63 -4.37,-1.42 -1.2,-1.66" fill="#ffe920"/>
<polygon transform="translate(430.79 416.13) rotate(132.5)" points="0,-4.6 1.2,-1.66 4.37,-1.42 1.95,0.63 2.7,3.72 0,2.05 -2.7,3.72 -1.95,0.63 -4.37,-1.42 -1.2,-1.66" fill="#ffe920"/>
<circle cx="422.54" cy="424.64" r="4.9" fill="#1170c4"/>
<circle cx="413.91" cy="432.7" r="4.9" fill="#1170c4"/>
<circle cx="404.92" cy="440.3" r="4.9" fill="#1170c4"/>
<circle cx="395.6" cy="447.41" r="4.9" fill="#1170c4"/>
<rect transform="translate(385.97 454.02) rotate(146.67)" x="-4.1" y="-4.1" width="8.2" height="8.2" fill="#10a038"/>
<polygon transform="translate(376.06 460.14) rotate(149.5)" points="0,-4.6 1.2,-1.66 4.37,-1.42 1.95,0.63 2.7,3.72 0,2.05 -2.7,3.72 -1.95,0.63 -4.37,-1.42 -1.2,-1.66" fill="#ffe920"/>
<rect transform="translate(365.89 465.74) rotate(152.33)" x="-4.1" y="-4.1" width="8.2" height="8.2" fill="#10a038"/>
<polygon transform="translate(355.47 470.83) rotate(155.17)" points="0,-4.6 1.2,-1.66 4.37,-1.42 1.95,0.63 2.7,3.72 0,2.05 -2.7,3.72 -1.95,0.63 -4.37,-1.42 -1.2,-1.66" fill="#ffe920"/>
<rect transform="translate(344.82 475.4) rotate(158)" x="-4.1" y="-4.1" width="8.2" height="8.2" fill="#10a038"/>
<polygon transform="translate(333.97 479.44) rotate(160.83)" points="0,-4.6 4.5,3.4 -4.5,3.4" fill="#ff0a0a"/>
<polygon transform="translate(322.92 482.94) rotate(163.67)" points="0,-4.6 4.5,3.4 -4.5,3.4" fill="#ff0a0a"/>
<polygon transform="translate(311.71 485.9) rotate(166.5)" points="0,-4.6 1.2,-1.66 4.37,-1.42 1.95,0.63 2.7,3.72 0,2.05 -2.7,3.72 -1.95,0.63 -4.37,-1.42 -1.2,-1.66" fill="#ffe920"/>
<polygon transform="translate(300.35 488.3) rotate(169.33)" points="0,-4.6 4.5,3.4 -4.5,3.4" fill="#ff0a0a"/>
<polygon transform="translate(288.87 490.15) rotate(172.17)" points="0,-4.6 1.2,-1.66 4.37,-1.42 1.95,0.63 2.7,3.72 0,2.05 -2.7,3.72 -1.95,0.63 -4.37,-1.42 -1.2,-1.66" fill="#ffe920"/>
<polygon transform="translate(277.29 491.44) rotate(175)" points="0,-4.6 4.5,3.4 -4.5,3.4" fill="#ff0a0a"/>
<polygon transform="translate(265.64 492.15) rotate(177.83)" points="0,-4.6 1.2,-1.66 4.37,-1.42 1.95,0.63 2.7,3.72 0,2.05 -2.7,3.72 -1.95,0.63 -4.37,-1.42 -1.2,-1.66" fill="#ffe920"/>
<polygon transform="translate(253.95 492.28) rotate(180.67)" points="0,-4.6 4.5,3.4 -4.5,3.4" fill="#ff0a0a"/>
<rect transform="translate(242.25 491.83) rotate(183.5)" x="-4.1" y="-4.1" width="8.2" height="8.2" fill="#10a038"/>
<rect transform="translate(230.57 490.8) rotate(186.33)" x="-4.1" y="-4.1" width="8.2" height="8.2" fill="#10a038"/>
<polygon transform="translate(218.94 489.2) rotate(189.17)" points="0,-4.6 4.5,3.4 -4.5,3.4" fill="#ff0a0a"/>
<polygon transform="translate(207.4 487.01) rotate(192)" points="0,-4.6 1.2,-1.66 4.37,-1.42 1.95,0.63 2.7,3.72 0,2.05 -2.7,3.72 -1.95,0.63 -4.37,-1.42 -1.2,-1.66" fill="#ffe920"/>
<circle cx="195.97" cy="484.25" r="4.9" fill="#1170c4"/>
<rect transform="translate(184.69 480.92) rotate(197.67)" x="-4.1" y="-4.1" width="8.2" height="8.2" fill="#10a038"/>
<polygon transform="translate(173.59 477.04) rotate(200.5)" points="0,-4.6 4.5,3.4 -4.5,3.4" fill="#ff0a0a"/>
<rect transform="translate(162.69 472.6) rotate(203.33)" x="-4.1" y="-4.1" width="8.2" height="8.2" fill="#10a038"/>
<polygon transform="translate(152.03 467.63) rotate(206.17)" points="0,-4.6 1.2,-1.66 4.37,-1.42 1.95,0.63 2.7,3.72 0,2.05 -2.7,3.72 -1.95,0.63 -4.37,-1.42 -1.2,-1.66" fill="#ffe920"/>
<polygon transform="translate(141.62 462.13) rotate(209)" points="0,-4.6 1.2,-1.66 4.37,-1.42 1.95,0.63 2.7,3.72 0,2.05 -2.7,3.72 -1.95,0.63 -4.37,-1.42 -1.2,-1.66" fill="#ffe920"/>
<polygon transform="translate(131.51 456.13) rotate(211.83)" points="0,-4.6 1.2,-1.66 4.37,-1.42 1.95,0.63 2.7,3.72 0,2.05 -2.7,3.72 -1.95,0.63 -4.37,-1.42 -1.2,-1.66" fill="#ffe920"/>
<polygon transform="translate(121.71 449.62) rotate(214.67)" points="0,-4.6 4.5,3.4 -4.5,3.4" fill="#ff0a0a"/>
<polygon transform="translate(112.25 442.64) rotate(217.5)" points="0,-4.6 1.2,-1.66 4.37,-1.42 1.95,0.63 2.7,3.72 0,2.05 -2.7,3.72 -1.95,0.63 -4.37,-1.42 -1.2,-1.66" fill="#ffe920"/>
<polygon transform="translate(103.15 435.2) rotate(220.33)" points="0,-4.6 4.5,3.4 -4.5,3.4" fill="#ff0a0a"/>
<polygon transform="translate(94.43 427.32) rotate(223.17)" points="0,-4.6 1.2,-1.66 4.37,-1.42 1.95,0.63 2.7,3.72 0,2.05 -2.7,3.72 -1.95,0.63 -4.37,-1.42 -1.2,-1.66" fill="#ffe920"/>
<circle cx="86.12" cy="419.02" r="4.9" fill="#1170c4"/>
<circle cx="78.24" cy="410.31" r="4.9" fill="#1170c4"/>
<circle cx="70.8" cy="401.23" r="4.9" fill="#1170c4"/>
<circle cx="63.82" cy="391.79" r="4.9" fill="#1170c4"/>
<circle cx="57.32" cy="382.03" r="4.9" fill="#1170c4"/>
<circle cx="51.32" cy="371.95" r="4.9" fill="#1170c4"/>
<circle cx="45.83" cy="361.6" r="4.9" fill="#1170c4"/>
<polygon transform="translate(40.86 350.98) rotate(245.83)" points="0,-4.6 1.2,-1.66 4.37,-1.42 1.95,0.63 2.7,3.72 0,2.05 -2.7,3.72 -1.95,0.63 -4.37,-1.42 -1.2,-1.66" fill="#ffe920"/>
<polygon transform="translate(36.43 340.14) rotate(248.67)" points="0,-4.6 1.2,-1.66 4.37,-1.42 1.95,0.63 2.7,3.72 0,2.05 -2.7,3.72 -1.95,0.63 -4.37,-1.42 -1.2,-1.66" fill="#ffe920"/>
<circle cx="32.54" cy="329.1" r="4.9" fill="#1170c4"/>
<rect transform="translate(29.2 317.88) rotate(254.33)" x="-4.1" y="-4.1" width="8.2" height="8.2" fill="#10a038"/>
<rect transform="translate(26.42 306.52) rotate(257.17)" x="-4.1" y="-4.1" width="8.2" height="8.2" fill="#10a038"/>
<circle cx="24.22" cy="295.03" r="4.9" fill="#1170c4"/>
<circle cx="22.58" cy="283.46" r="4.9" fill="#1170c4"/>
<circle cx="21.52" cy="271.81" r="4.9" fill="#1170c4"/>
<circle cx="21.03" cy="260.13" r="4.9" fill="#1170c4"/>
<polygon transform="translate(21.13 248.43) rotate(271.33)" points="0,-4.6 4.5,3.4 -4.5,3.4" fill="#ff0a0a"/>
<rect transform="translate(21.8 236.75) rotate(274.17)" x="-4.1" y="-4.1" width="8.2" height="8.2" fill="#10a038"/>
<polygon transform="translate(23.06 225.11) rotate(277)" points="0,-4.6 1.2,-1.66 4.37,-1.42 1.95,0.63 2.7,3.72 0,2.05 -2.7,3.72 -1.95,0.63 -4.37,-1.42 -1.2,-1.66" fill="#ffe920"/>
<polygon transform="translate(24.89 213.52) rotate(279.83)" points="0,-4.6 1.2,-1.66 4.37,-1.42 1.95,0.63 2.7,3.72 0,2.05 -2.7,3.72 -1.95,0.63 -4.37,-1.42 -1.2,-1.66" fill="#ffe920"/>
<circle cx="27.3" cy="202.03" r="4.9" fill="#1170c4"/>
<circle cx="30.28" cy="190.65" r="4.9" fill="#1170c4"/>
<circle cx="33.83" cy="179.42" r="4.9" fill="#1170c4"/>
<polygon transform="translate(37.95 168.35) rotate(291.17)" points="0,-4.6 4.5,3.4 -4.5,3.4" fill="#ff0a0a"/>
<polygon transform="translate(42.63 157.48) rotate(294)" points="0,-4.6 1.2,-1.66 4.37,-1.42 1.95,0.63 2.7,3.72 0,2.05 -2.7,3.72 -1.95,0.63 -4.37,-1.42 -1.2,-1.66" fill="#ffe920"/>
<rect transform="translate(47.85 146.85) rotate(296.83)" x="-4.1" y="-4.1" width="8.2" height="8.2" fill="#10a038"/>
<polygon transform="translate(53.6 136.49) rotate(299.67)" points="0,-4.6 1.2,-1.66 4.37,-1.42 1.95,0.63 2.7,3.72 0,2.05 -2.7,3.72 -1.95,0.63 -4.37,-1.42 -1.2,-1.66" fill="#ffe920"/>
<circle cx="59.86" cy="126.43" r="4.9" fill="#1170c4"/>
<polygon transform="translate(66.62 116.7) rotate(305.33)" points="0,-4.6 1.2,-1.66 4.37,-1.42 1.95,0.63 2.7,3.72 0,2.05 -2.7,3.72 -1.95,0.63 -4.37,-1.42 -1.2,-1.66" fill="#ffe920"/>
<rect transform="translate(73.83 107.35) rotate(308.17)" x="-4.1" y="-4.1" width="8.2" height="8.2" fill="#10a038"/>
<polygon transform="translate(81.47 98.41) rotate(311)" points="0,-4.6 1.2,-1.66 4.37,-1.42 1.95,0.63 2.7,3.72 0,2.05 -2.7,3.72 -1.95,0.63 -4.37,-1.42 -1.2,-1.66" fill="#ffe920"/>
<circle cx="89.52" cy="89.89" r="4.9" fill="#1170c4"/>
<circle cx="97.93" cy="81.82" r="4.9" fill="#1170c4"/>
<circle cx="106.67" cy="74.22" r="4.9" fill="#1170c4"/>
<circle cx="115.73" cy="67.1" r="4.9" fill="#1170c4"/>
<rect transform="translate(125.07 60.46) rotate(325.17)" x="-4.1" y="-4.1" width="8.2" height="8.2" fill="#10a038"/>
<polygon transform="translate(134.69 54.31) rotate(328)" points="0,-4.6 4.5,3.4 -4.5,3.4" fill="#ff0a0a"/>
<polygon transform="translate(144.55 48.65) rotate(330.83)" points="0,-4.6 1.2,-1.66 4.37,-1.42 1.95,0.63 2.7,3.72 0,2.05 -2.7,3.72 -1.95,0.63 -4.37,-1.42 -1.2,-1.66" fill="#ffe920"/>
<rect transform="translate(154.65 43.49) rotate(333.67)" x="-4.1" y="-4.1" width="8.2" height="8.2" fill="#10a038"/>
<polygon transform="translate(164.98 38.81) rotate(336.5)" points="0,-4.6 1.2,-1.66 4.37,-1.42 1.95,0.63 2.7,3.72 0,2.05 -2.7,3.72 -1.95,0.63 -4.37,-1.42 -1.2,-1.66" fill="#ffe920"/>
<polygon transform="translate(175.52 34.64) rotate(339.33)" points="0,-4.6 1.2,-1.66 4.37,-1.42 1.95,0.63 2.7,3.72 0,2.05 -2.7,3.72 -1.95,0.63 -4.37,-1.42 -1.2,-1.66" fill="#ffe920"/>
<polygon transform="translate(186.26 30.98) rotate(342.17)" points="0,-4.6 4.5,3.4 -4.5,3.4" fill="#ff0a0a"/>
<polygon transform="translate(197.19 27.83) rotate(345)" points="0,-4.6 1.2,-1.66 4.37,-1.42 1.95,0.63 2.7,3.72 0,2.05 -2.7,3.72 -1.95,0.63 -4.37,-1.42 -1.2,-1.66" fill="#ffe920"/>
<polygon transform="translate(208.28 25.2) rotate(347.83)" points="0,-4.6 4.5,3.4 -4.5,3.4" fill="#ff0a0a"/>
<polygon transform="translate(219.5 23.11) rotate(350.67)" points="0,-4.6 1.2,-1.66 4.37,-1.42 1.95,0.63 2.7,3.72 0,2.05 -2.7,3.72 -1.95,0.63 -4.37,-1.42 -1.2,-1.66" fill="#ffe920"/>
<polygon transform="translate(230.85 21.56) rotate(353.5)" points="0,-4.6 1.2,-1.66 4.37,-1.42 1.95,0.63 2.7,3.72 0,2.05 -2.7,3.72 -1.95,0.63 -4.37,-1.42 -1.2,-1.66" fill="#ffe920"/>
<polygon transform="translate(242.27 20.57) rotate(356.33)" points="0,-4.6 1.2,-1.66 4.37,-1.42 1.95,0.63 2.7,3.72 0,2.05 -2.7,3.72 -1.95,0.63 -4.37,-1.42 -1.2,-1.66" fill="#ffe920"/>
<rect transform="translate(253.76 20.12) rotate(359.17)" x="-4.1" y="-4.1" width="8.2" height="8.2" fill="#10a038"/>
<polygon transform="translate(265.27 20.24) rotate(362)" points="0,-4.6 4.5,3.4 -4.5,3.4" fill="#ff0a0a"/>
<polygon transform="translate(276.78 20.92) rotate(364.83)" points="0,-4.6 1.2,-1.66 4.37,-1.42 1.95,0.63 2.7,3.72 0,2.05 -2.7,3.72 -1.95,0.63 -4.37,-1.42 -1.2,-1.66" fill="#ffe920"/>
<rect transform="translate(288.26 22.16) rotate(367.67)" x="-4.1" y="-4.1" width="8.2" height="8.2" fill="#10a038"/>
<polygon transform="translate(299.66 23.97) rotate(370.5)" points="0,-4.6 1.2,-1.66 4.37,-1.42 1.95,0.63 2.7,3.72 0,2.05 -2.7,3.72 -1.95,0.63 -4.37,-1.42 -1.2,-1.66" fill="#ffe920"/>
<circle cx="310.98" cy="26.33" r="4.9" fill="#1170c4"/>
<circle cx="322.17" cy="29.24" r="4.9" fill="#1170c4"/>
<polygon transform="translate(333.21 32.7) rotate(379)" points="0,-4.6 4.5,3.4 -4.5,3.4" fill="#ff0a0a"/>
<polygon transform="translate(344.06 36.7) rotate(381.83)" points="0,-4.6 1.2,-1.66 4.37,-1.42 1.95,0.63 2.7,3.72 0,2.05 -2.7,3.72 -1.95,0.63 -4.37,-1.42 -1.2,-1.66" fill="#ffe920"/>
<rect transform="translate(354.72 41.23) rotate(384.67)" x="-4.1" y="-4.1" width="8.2" height="8.2" fill="#10a038"/>
<rect transform="translate(365.14 46.27) rotate(387.5)" x="-4.1" y="-4.1" width="8.2" height="8.2" fill="#10a038"/>
<polygon transform="translate(375.3 51.82) rotate(390.33)" points="0,-4.6 1.2,-1.66 4.37,-1.42 1.95,0.63 2.7,3.72 0,2.05 -2.7,3.72 -1.95,0.63 -4.37,-1.42 -1.2,-1.66" fill="#ffe920"/>
<rect transform="translate(385.19 57.86) rotate(393.17)" x="-4.1" y="-4.1" width="8.2" height="8.2" fill="#10a038"/>
<polygon transform="translate(394.76 64.39) rotate(396)" points="0,-4.6 4.5,3.4 -4.5,3.4" fill="#ff0a0a"/>
<polygon transform="translate(404.01 71.37) rotate(398.83)" points="0,-4.6 1.2,-1.66 4.37,-1.42 1.95,0.63 2.7,3.72 0,2.05 -2.7,3.72 -1.95,0.63 -4.37,-1.42 -1.2,-1.66" fill="#ffe920"/>
<rect transform="translate(412.91 78.81) rotate(401.67)" x="-4.1" y="-4.1" width="8.2" height="8.2" fill="#10a038"/>
<polygon transform="translate(421.43 86.67) rotate(404.5)" points="0,-4.6 4.5,3.4 -4.5,3.4" fill="#ff0a0a"/>
<polygon transform="translate(429.56 94.95) rotate(407.33)" points="0,-4.6 1.2,-1.66 4.37,-1.42 1.95,0.63 2.7,3.72 0,2.05 -2.7,3.72 -1.95,0.63 -4.37,-1.42 -1.2,-1.66" fill="#ffe920"/>
<polygon transform="translate(437.28 103.62) rotate(410.17)" points="0,-4.6 4.5,3.4 -4.5,3.4" fill="#ff0a0a"/>
<polygon transform="translate(444.56 112.66) rotate(413)" points="0,-4.6 4.5,3.4 -4.5,3.4" fill="#ff0a0a"/>
<polygon transform="translate(451.39 122.06) rotate(415.83)" points="0,-4.6 4.5,3.4 -4.5,3.4" fill="#ff0a0a"/>
<polygon transform="translate(457.76 131.78) rotate(418.67)" points="0,-4.6 4.5,3.4 -4.5,3.4" fill="#ff0a0a"/>
<polygon transform="translate(463.64 141.81) rotate(421.5)" points="0,-4.6 1.2,-1.66 4.37,-1.42 1.95,0.63 2.7,3.72 0,2.05 -2.7,3.72 -1.95,0.63 -4.37,-1.42 -1.2,-1.66" fill="#ffe920"/>
<rect transform="translate(469.02 152.11) rotate(424.33)" x="-4.1" y="-4.1" width="8.2" height="8.2" fill="#10a038"/>
<polygon transform="translate(473.89 162.68) rotate(427.17)" points="0,-4.6 4.5,3.4 -4.5,3.4" fill="#ff0a0a"/>
<polygon transform="translate(478.23 173.48) rotate(430)" points="0,-4.6 1.2,-1.66 4.37,-1.42 1.95,0.63 2.7,3.72 0,2.05 -2.7,3.72 -1.95,0.63 -4.37,-1.42 -1.2,-1.66" fill="#ffe920"/>
</g>
<g id="legend" font-size="9" font-weight="bold" fill="#111">
<circle cx="474" cy="9.2" r="5.9" fill="#1170c4"/>
<rect x="468.8" y="22.1" width="9.6" height="9.6" fill="#10a038"/>
<polygon points="473,38.3 478.6,47.6 467.4,47.6" fill="#ff0a0a"/>
<polygon transform="translate(473 60.8) scale(1.2)" points="0,-4.6 1.2,-1.66 4.37,-1.42 1.95,0.63 2.7,3.72 0,2.05 -2.7,3.72 -1.95,0.63 -4.37,-1.42 -1.2,-1.66" fill="#ffe920"/>
<text x="489" y="12.4">Arabidopsis</text>
<text x="489" y="30">Rice</text>
<text x="489" y="46.4">Maize</text>
<text x="489" y="63.6">Foxtail millet</text>
</g>
<defs><path id="gp" d="M519.3 258A261.3 261.3 0 1 1 -3.3 258A261.3 261.3 0 1 1 519.3 258"/></defs>
<g id="groups" font-size="14.5" fill="#111" text-anchor="middle">
<text><textPath href="#gp" startOffset="96.68">Group A</textPath></text>
<text><textPath href="#gp" startOffset="252.65">Group B</textPath></text>
<text><textPath href="#gp" startOffset="555.25">Group C</textPath></text>
<text><textPath href="#gp" startOffset="1061.24">Group D</textPath></text>
</g>
</svg>
</body></html>
